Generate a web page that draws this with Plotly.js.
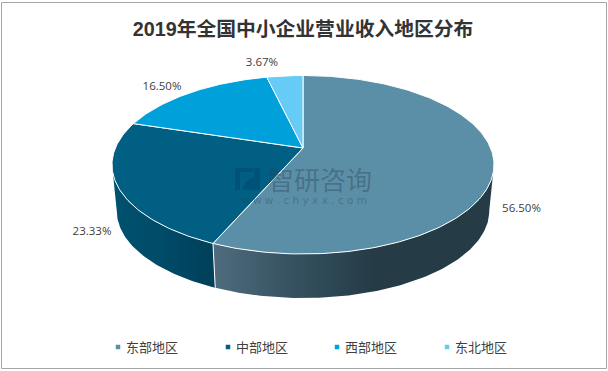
<!DOCTYPE html>
<html><head><meta charset="utf-8">
<script src="https://cdn.plot.ly/plotly-3.0.1.min.js"></script>
<style>html,body{margin:0;padding:0;background:#fff}#c{width:608px;height:371px}</style>
</head><body><div id="c"></div>
<script>
var categories = ['东部地区','中部地区','西部地区','东北地区'];
var values = [56.50, 23.33, 16.50, 3.67];
var valueLabels = ['56.50%','23.33%','16.50%','3.67%'];
var colors = ['#5b8fa8','#005f83','#00a0db','#66ccf5'];

// projection of the pie disc
var AX=303, AY=148, B=187.6, A=86.1, K=0.1877, S=0.975, Y2=194.7;
function topPt(t){var u=Math.sin(t),v=Math.cos(t),w=1+K*v;return [AX+B*u/w, AY-A*v/w];}
function botPt(t){var u=Math.sin(t),v=Math.cos(t),w=1+K*v;return [AX+S*B*u/w, Y2-S*A*v/w];}
var total=values.reduce(function(a,b){return a+b;},0);
var TR=Math.acos(-K), TL=2*Math.PI-TR;
function arc(f,a,b){var n=Math.max(4,Math.ceil(Math.abs(b-a)*60)),r=[];for(var i=0;i<=n;i++)r.push(f(a+(b-a)*i/n));return r;}

var traces=[];
var cum=0, bounds=[0];
values.forEach(function(v){cum+=v;bounds.push(cum/total*2*Math.PI);});

// side walls
var wallScales=[
 [[0,'#4f6c7e'],[0.3,'#34505e'],[0.57,'#253c47'],[1,'#253c47']],
 [[0,'#00526f'],[0.45,'#004c69'],[1,'#003f59']]
];
[[TR,bounds[1],0],[bounds[1],TL,1]].forEach(function(w){
  var pts=arc(topPt,w[0],w[1]).concat(arc(botPt,w[0],w[1]).reverse());
  pts.push(pts[0]);
  traces.push({type:'scatter',mode:'lines',x:pts.map(function(p){return p[0];}),y:pts.map(function(p){return p[1];}),
    fill:'toself',fillgradient:{type:'horizontal',colorscale:wallScales[w[2]]},line:{color:'rgba(0,0,0,0)',width:0},hoverinfo:'skip',showlegend:false});
});
// seam on wall
var sa=topPt(bounds[1]),sb=botPt(bounds[1]);
traces.push({type:'scatter',mode:'lines',x:[sa[0],sb[0]],y:[sa[1],sb[1]],line:{color:'#ffffff',width:1},hoverinfo:'skip',showlegend:false});

// top slices
values.forEach(function(v,i){
  var pts=[[AX,AY]].concat(arc(topPt,bounds[i],bounds[i+1]));pts.push([AX,AY]);
  traces.push({type:'scatter',mode:'lines',name:categories[i],x:pts.map(function(p){return p[0];}),y:pts.map(function(p){return p[1];}),
    fill:'toself',fillcolor:colors[i],line:{color:'#ffffff',width:1},hovertemplate:categories[i]+' '+valueLabels[i]+'<extra></extra>',showlegend:false});
});

// data labels
var labelX=[521.5,92,162,262], labelY=[209,232,87,63];
traces.push({type:'scatter',mode:'text',x:labelX,y:labelY,text:valueLabels,textposition:'middle center',
  textfont:{family:'"Open Sans","Noto Sans",sans-serif',size:11.5,color:'#404040'},hoverinfo:'skip',showlegend:false});

// legend
var legX=[118,228,337,447], legY=347;
traces.push({type:'scatter',mode:'markers',x:legX,y:legX.map(function(){return legY;}),
  marker:{symbol:'square',size:4.5,color:colors},hoverinfo:'skip',showlegend:false});
var annotations=categories.map(function(c,i){
  return {x:legX[i]+5.5,y:legY-0.5,xref:'x',yref:'y',text:c,showarrow:false,xanchor:'left',yanchor:'middle',
    font:{family:'"Noto Sans CJK SC",sans-serif',size:13,color:'#404040'}};
});
// watermark
annotations.push({x:320,y:178,xref:'x',yref:'y',text:'智研咨询',showarrow:false,xanchor:'center',yanchor:'middle',
  font:{family:'"Noto Sans CJK SC",sans-serif',size:26,color:'rgba(38,64,84,0.38)'}});
annotations.push({x:304,y:199.5,xref:'x',yref:'y',text:'w w w . c h y x x . c o m',showarrow:false,xanchor:'center',yanchor:'middle',
  font:{family:'"DejaVu Sans",sans-serif',size:10.5,color:'rgba(38,64,84,0.38)'}});

var layout={
  width:608,height:371,margin:{l:0,r:0,t:0,b:0},paper_bgcolor:'#ffffff',plot_bgcolor:'#ffffff',showlegend:false,
  xaxis:{range:[0,608],visible:false,fixedrange:true},
  yaxis:{range:[371,0],visible:false,fixedrange:true},
  title:{text:'<b>2019年全国中小企业营业收入地区分布</b>',x:303/608,xanchor:'center',y:1-29/371,yanchor:'middle',
    font:{family:'"Liberation Sans","Noto Sans CJK SC",sans-serif',size:19.8,color:'#333333'}},
  annotations:annotations,
  shapes:[
   {type:'rect',xref:'x',yref:'y',x0:1.5,x1:606.5,y0:2.5,y1:368.5,line:{color:'#a6a6a6',width:1},layer:'below'},
   {type:'path',xref:'x',yref:'y',path:'M235 168 H253 V172 H240 V190 H235 Z',fillcolor:'rgba(0,70,110,0.5)',line:{width:0}},
   {type:'path',xref:'x',yref:'y',path:'M243 186 L250 178 H254 V168 H260 V190 H243 Z',fillcolor:'rgba(0,70,110,0.5)',line:{width:0}}
  ]
};
Plotly.newPlot('c',traces,layout,{displayModeBar:false,staticPlot:true});
</script></body></html>
